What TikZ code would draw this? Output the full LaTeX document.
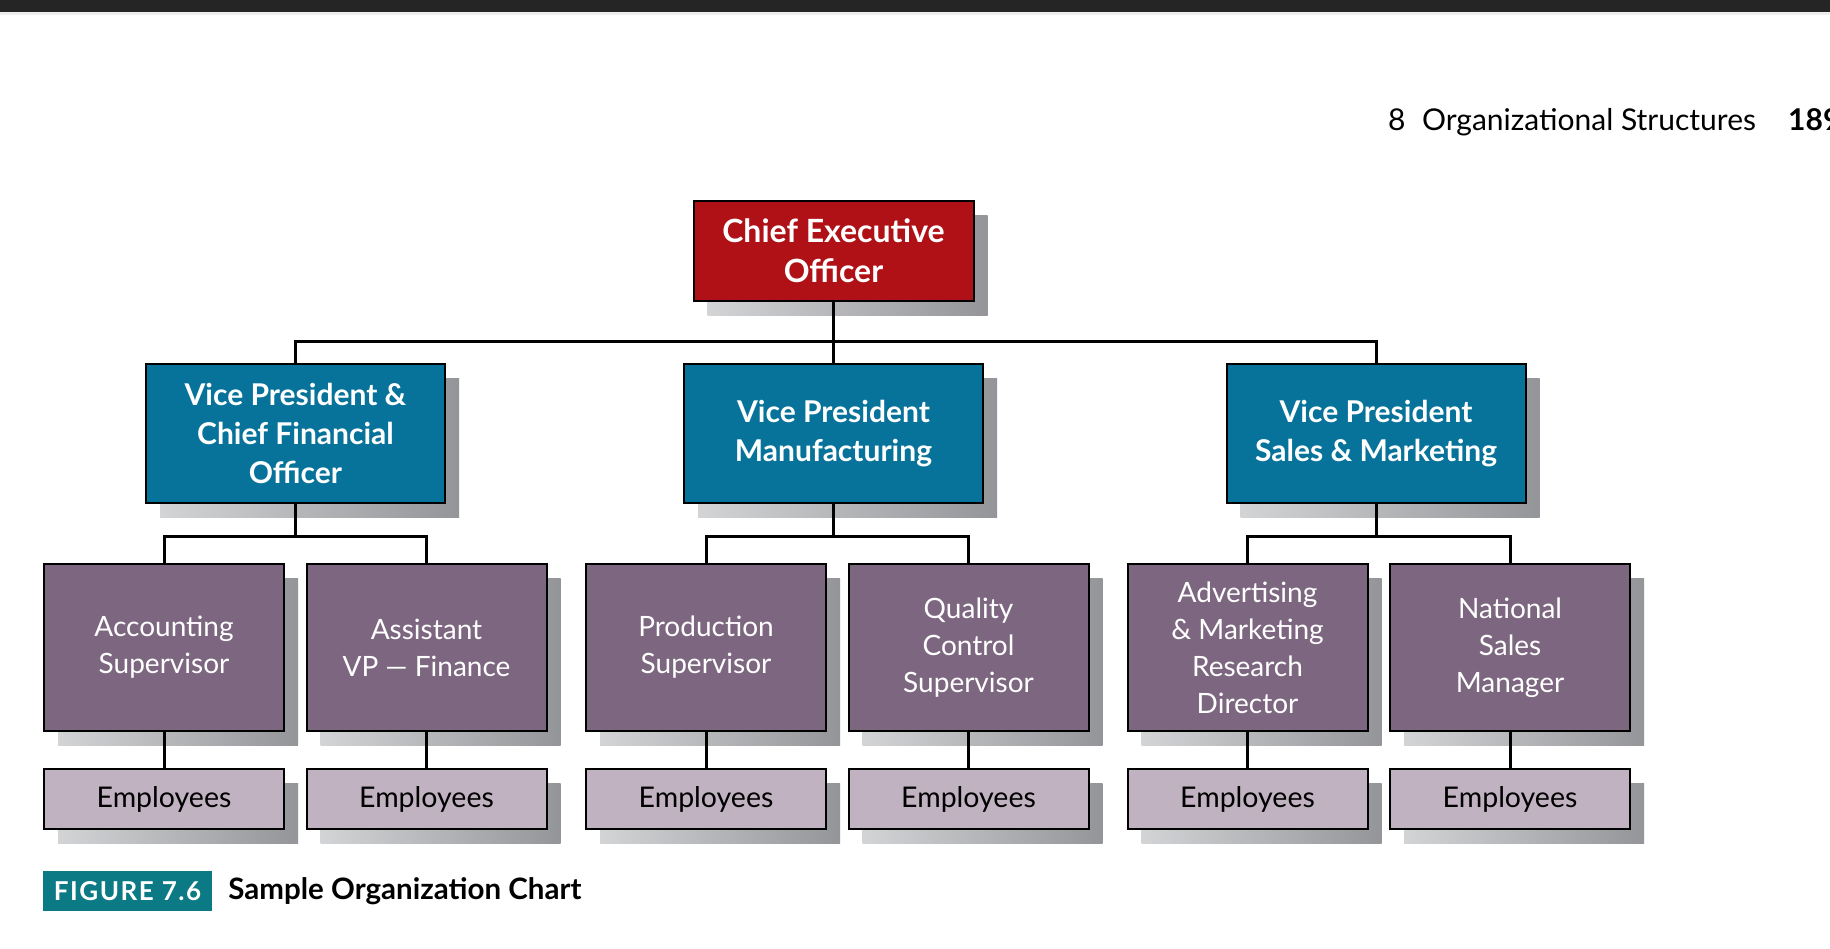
\documentclass[tikz,border=0pt]{standalone}
\usepackage{fontspec}
\setmainfont{Lato}
\usetikzlibrary{positioning, shadows}

\definecolor{ceored}{HTML}{B01117}
\definecolor{vpblue}{HTML}{08739A}
\definecolor{mgrviolet}{HTML}{7D6680}
\definecolor{stafflilac}{HTML}{C1B2C1}
\definecolor{shadelight}{HTML}{D3D4D6}
\definecolor{shadedark}{HTML}{939598}
\definecolor{figteal}{HTML}{0B7A85}
\definecolor{topbar}{HTML}{252525}
\definecolor{topband}{HTML}{EEEEEE}

\begin{document}
\begin{tikzpicture}[
    x=1pt, y=-1pt,
    node distance=36pt and 22pt,
    box/.style={rectangle, draw=black, line width=2pt, align=center, inner sep=4pt,
        general shadow={shadow xshift=14pt, shadow yshift=-14pt, left color=shadelight, right color=shadedark}},
    ceo/.style={box, fill=ceored, text=white, minimum width=280pt, minimum height=100pt, font=\fontsize{32}{40}\selectfont\bfseries},
    vp/.style={box, fill=vpblue, text=white, minimum width=299pt, minimum height=139pt, font=\fontsize{30}{39}\selectfont\bfseries},
    mgr/.style={box, fill=mgrviolet, text=white, minimum width=240pt, minimum height=167pt, font=\fontsize{28}{37}\selectfont},
    staff/.style={box, fill=stafflilac, minimum width=240pt, minimum height=60pt, font=\fontsize{28.5}{32}\selectfont},
    link/.style={line width=3pt}
]
\path[use as bounding box, clip] (0,0) rectangle (1830,948);
\fill[white] (0,0) rectangle (1830,948);
\fill[topbar] (0,0) rectangle (1830,12);
\fill[topband] (0,12) rectangle (1830,15);

% running head
\node[anchor=base west, inner sep=0pt, font=\fontsize{30}{34}\selectfont] (runhead) at (1388,130) {8\hspace{0.55em}Organizational Structures};
\node[anchor=base west, inner sep=0pt, font=\fontsize{30}{34}\selectfont\bfseries] (pageno) at (1788,130) {189};

% top levels
\node[ceo] (ceo) at (833.5,251) {Chief Executive\\Officer};
\node[vp] (vpf) at (295.5,433.5) {Vice President \&\\Chief Financial\\Officer};
\node[vp] (vpm) at (833.5,433.5) {Vice President\\Manufacturing};
\node[vp] (vps) at (1376,433.5) {Vice President\\Sales \& Marketing};

% managers
\node[mgr] (acct) at (164,647.5) {Accounting\\Supervisor};
\node[mgr] (asst) at (426.5,647.5) {Assistant\\VP — Finance};
\node[mgr] (prod) at (706,647.5) {Production\\Supervisor};
\node[mgr] (qual) at (968.5,647.5) {Quality\\Control\\Supervisor};
\node[mgr] (advt) at (1247.5,647.5) {Advertising\\\& Marketing\\Research\\Director};
\node[mgr] (sales) at (1510,647.5) {National\\Sales\\Manager};

% employees
\node[staff, below=of acct] (acctemp) {Employees};
\node[staff, below=of asst] (asstemp) {Employees};
\node[staff, below=of prod] (prodemp) {Employees};
\node[staff, below=of qual] (qualemp) {Employees};
\node[staff, below=of advt] (advtemp) {Employees};
\node[staff, below=of sales] (salesemp) {Employees};

% connectors
\coordinate (ceobus) at (833.5,341);
\coordinate (fbus) at (295.5,536);
\coordinate (mbus) at (833.5,536);
\coordinate (sbus) at (1376,536);
\draw[link] (ceo) -- (vpm);
\draw[link] (vpf.north) |- (ceobus) -| (vps.north);
\draw[link] (vpf) -- (fbus);
\draw[link] (vpm) -- (mbus);
\draw[link] (vps) -- (sbus);
\draw[link] (acct.north) |- (fbus) -| (asst.north);
\draw[link] (prod.north) |- (mbus) -| (qual.north);
\draw[link] (advt.north) |- (sbus) -| (sales.north);
\draw[link] (acct) -- (acctemp);
\draw[link] (asst) -- (asstemp);
\draw[link] (prod) -- (prodemp);
\draw[link] (qual) -- (qualemp);
\draw[link] (advt) -- (advtemp);
\draw[link] (sales) -- (salesemp);

% caption
\node[fill=figteal, text=white, inner sep=0pt, minimum width=169pt, minimum height=40pt,
    font=\fontsize{26}{30}\selectfont\bfseries\addfontfeature{LetterSpace=6}] (figtag) at (127.5,891) {FIGURE 7.6};
\node[right=16pt of figtag, inner sep=0pt, font=\fontsize{29.5}{32}\selectfont\bfseries] (figtitle) {Sample Organization Chart};
\end{tikzpicture}
\end{document}
